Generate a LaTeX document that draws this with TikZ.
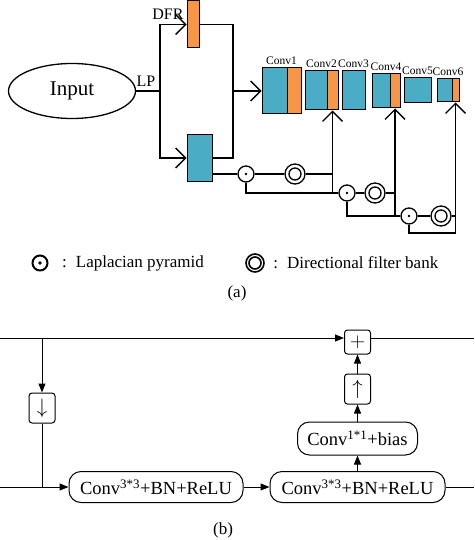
\documentclass[tikz,border=0pt]{standalone}
\usepackage{fontspec}
\setmainfont{Liberation Serif}
\usetikzlibrary{shapes.geometric, arrows.meta, positioning, calc}

\definecolor{convblue}{HTML}{4BACC6}
\definecolor{dfrorange}{HTML}{F79646}

\tikzset{
  barb/.style={-{Straight Barb[length=10pt,width=20pt]}},
  tri/.style={-{Triangle[length=9pt,width=7pt]}},
  convblk/.style={draw, fill=convblue, inner sep=0pt, line width=1pt},
  dfrblk/.style={draw, fill=dfrorange, inner sep=0pt, line width=1pt},
  convlbl/.style={anchor=south, inner sep=3pt, font=\fontsize{11.5}{12}\selectfont},
  lpsym/.style={draw, circle, fill=white, minimum size=16pt, inner sep=0pt,
    path picture={\fill[black] (path picture bounding box.center) circle (1.4pt);}},
  dfbsym/.style={draw, circle, fill=white, minimum size=20pt, inner sep=0pt,
    path picture={\draw (path picture bounding box.center) circle (6pt);}},
  opbox/.style={draw, rounded corners=3pt, minimum width=26pt, minimum height=30pt,
    inner sep=0pt, font=\fontsize{20}{22}\selectfont},
  procbox/.style={draw, rounded corners=12pt, minimum height=31pt, inner sep=2pt,
    font=\fontsize{18.5}{20}\selectfont},
  keytxt/.style={inner sep=0pt, font=\fontsize{17}{20}\selectfont},
}

\begin{document}
\begin{tikzpicture}[x=1pt,y=-1pt,line width=1.3pt]
\useasboundingbox (0,0) rectangle (474,540);

% (a) conv blocks
\foreach \n/\xa/\xm/\xe/\ya/\yb in {1/262/287/301/68/114, 2/305/327/338/71/110, 3/342/365/365/71/110,
                                    4/372/390/400/74/108, 5/404/431/431/78/103, 6/437/452/459/79/102}{
  \node[convblk, minimum width={\xm-\xa}, minimum height={\yb-\ya}] (conv\n) at ({(\xa+\xm)/2},{(\ya+\yb)/2}) {};
  \node[convlbl] (lbl\n) at ({(\xa+\xe)/2},\ya) {Conv\n};
}
\foreach \n/\xm/\xe/\ya/\yb in {1/287/301/68/114, 2/327/338/71/110, 4/390/400/74/108, 6/452/459/79/102}
  \node[dfrblk, minimum width={\xe-\xm}, minimum height={\yb-\ya}] (dfr\n) at ({(\xm+\xe)/2},{(\ya+\yb)/2}) {};

% input and the two branches
\node[draw, ellipse, minimum width=127pt, minimum height=55pt, font=\fontsize{21}{24}\selectfont] (input) at (72,91) {Input};
\node[dfrblk, minimum width=12pt, minimum height=47pt] (dfrbar) at (193,24.5) {};
\node[convblk, minimum width=25pt, minimum height=46pt] (lpbar) at (199.5,158) {};

\coordinate (split) at (160,91);
\coordinate (merge) at (233,91);

\draw (input) -- (split) node[anchor=south east, inner sep=4pt, font=\fontsize{16}{18}\selectfont] {LP};
\node[font=\fontsize{16}{18}\selectfont] (dfrtxt) at (168,14) {DFR};
\draw[barb] (split) |- (dfrbar.west);
\draw[barb] (split) |- (lpbar.west);
\draw (dfrbar.east) -| (merge);
\draw (lpbar.east) -| (merge);
\draw[barb] (merge) -- (conv1.west);

% pyramid levels
\foreach \i/\xa/\xb/\y in {1/246/295/174, 2/347/375/193, 3/409/441/216}{
  \node[lpsym] (lp\i) at (\xa,\y) {};
  \node[dfbsym] (dfb\i) at (\xb,\y) {};
  \draw (lp\i) -- (dfb\i);
}
\coordinate (lvl4) at (0,233);
\coordinate (j1) at (dfr2.south |- lp2);
\coordinate (j2) at (dfr4.south |- lp3);
\coordinate (j3) at (dfr6.south |- lvl4);

\draw (lpbar.east |- lp1) -- (lp1);
\draw (lp1) |- (lp2);
\draw (lp2) |- (lp3);
\draw (lp3) |- (j3);
\draw (dfb1) -- (dfb1 -| j1);
\draw (dfb2) -- (dfb2 -| j2);
\draw (dfb3) -- (dfb3 -| j3);
\draw[barb] (j1) -- (dfr2.south);
\draw[barb] (j2) -- (dfr4.south);
\draw[barb] (j3) -- (dfr6.south);

% legend
\node[lpsym, minimum size=15pt, line width=2pt,
  path picture={\fill[black] (path picture bounding box.center) circle (1.8pt);}] (keylp) at (40,263) {};
\node[keytxt, right=13pt of keylp] (keylptxt) {:\hspace{9pt}Laplacian pyramid};
\node[dfbsym, minimum size=18pt, line width=1.6pt] (keydfb) at (255,263) {};
\node[keytxt, right=8pt of keydfb] (keydfbtxt) {:\hspace{9pt}Directional filter bank};
\node[keytxt] (capa) at (237,293) {(a)};

% (b)
\begin{scope}[line width=1pt]
\coordinate (inA) at (0,338);
\coordinate (outA) at (474,338);
\coordinate (inB) at (0,487);
\coordinate (outB) at (474,487);
\coordinate (tap) at (42,338);
\coordinate (join) at (42,487);

\node[opbox, minimum height=24pt] (plus) at (357.5,342) {$+$};
\node[opbox] (up) at (357.5,389) {$\uparrow$};
\node[opbox] (down) at (42,408) {$\downarrow$};
\node[procbox, minimum width=174pt] (conv3a) at (156,487) {Conv\textsuperscript{3*3}+BN+ReLU};
\node[procbox, minimum width=175pt] (conv3b) at (357.5,487) {Conv\textsuperscript{3*3}+BN+ReLU};
\node[procbox, minimum width=120pt, minimum height=33pt] (conv1x1) at (357.5,438.5) {Conv\textsuperscript{1*1}+bias};

\draw[tri] (inA) -- (plus.west |- inA);
\draw (plus.east |- inA) -- (outA);
\draw[tri] (tap) -- (down);
\draw (down) -- (join);
\draw[tri] (inB) -- (conv3a);
\draw[tri] (conv3a) -- (conv3b);
\draw (conv3b) -- (outB);
\draw[tri] (conv3b) -- (conv1x1);
\draw[tri] (conv1x1) -- (up);
\draw[tri] (up) -- (plus);
\end{scope}

\node[keytxt] (capb) at (223,530) {(b)};
\end{tikzpicture}
\end{document}
